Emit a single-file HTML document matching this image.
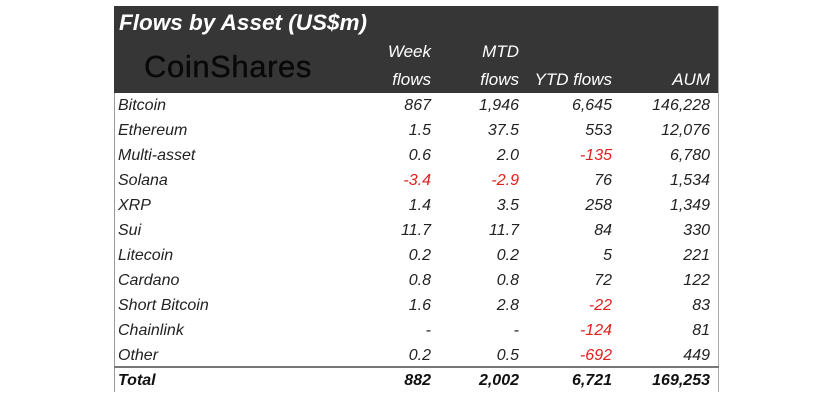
<!DOCTYPE html>
<html><head><meta charset="utf-8"><style>
body{margin:0;width:825px;height:408px;background:#fff;position:relative;overflow:hidden;font-family:"Liberation Sans",Arial,sans-serif;font-style:italic;}
.a{position:absolute;white-space:nowrap;}
#hdr{position:absolute;left:114px;top:6px;width:605px;height:87px;background:#363636;}
.r{text-align:right;}
.cell{position:absolute;font-size:16px;color:#222;line-height:25px;height:25px;}
.neg{color:#e0201e;}
.hd{font-size:17px;color:#fff;position:absolute;line-height:20px;}
</style></head><body>
<div id="hdr"></div>
<div class="a" style="left:119px;top:8px;font-size:22.5px;font-weight:bold;color:#fff;line-height:30px;">Flows by Asset (US$m)</div>
<div class="a" style="left:144px;top:48px;font-size:31px;font-style:normal;color:#080808;line-height:38px;letter-spacing:0.6px;-webkit-text-stroke:0.4px #080808;">CoinShares</div>
<div class="hd a" style="right:394px;top:42px;text-align:right">Week</div>
<div class="hd a" style="right:394px;top:70px;text-align:right">flows</div>
<div class="hd a" style="right:306px;top:42px;text-align:right">MTD</div>
<div class="hd a" style="right:306px;top:70px;text-align:right">flows</div>
<div class="hd a" style="right:213px;top:70px;text-align:right">YTD flows</div>
<div class="hd a" style="right:115px;top:70px;text-align:right">AUM</div>
<div class="a" style="left:114px;top:93px;width:1px;height:299px;background:#999"></div>
<div class="a" style="left:718px;top:6px;width:1px;height:386px;background:#aaa"></div>
<div class="a" style="left:114px;top:366px;width:605px;height:2px;background:#777"></div>
<div id="rows"></div>
<script>
const assets=["Bitcoin","Ethereum","Multi-asset","Solana","XRP","Sui","Litecoin","Cardano","Short Bitcoin","Chainlink","Other","Total"];
const week=["867","1.5","0.6","-3.4","1.4","11.7","0.2","0.8","1.6","-","0.2","882"];
const mtd=["1,946","37.5","2.0","-2.9","3.5","11.7","0.2","0.8","2.8","-","0.5","2,002"];
const ytd=["6,645","553","-135","76","258","84","5","72","-22","-124","-692","6,721"];
const aum=["146,228","12,076","6,780","1,534","1,349","330","221","122","83","81","449","169,253"];
const cols=[[week,394,"week"],[mtd,306,"mtd"],[ytd,213,"ytd"],[aum,115,"aum"]];
const host=document.getElementById('rows');
assets.forEach((name,i)=>{
  const y=93+i*25;
  const bold=i===assets.length-1;
  const d=document.createElement('div');
  d.className='cell';d.style.left='118px';d.style.top=y+'px';
  if(bold){d.style.fontWeight='bold';d.style.color='#111';}
  d.textContent=name;
  
  
  host.appendChild(d);
  cols.forEach(c=>{
    const v=c[0][i];
    const e=document.createElement('div');
    e.className='cell r'+(v.startsWith('-')&&v.length>1?' neg':'');
    e.style.right=c[1]+'px';e.style.top=y+'px';
    if(bold){e.style.fontWeight='bold';e.style.color='#111';}
    e.textContent=v;
    
    
    host.appendChild(e);
  });
});
</script>
</body></html>
